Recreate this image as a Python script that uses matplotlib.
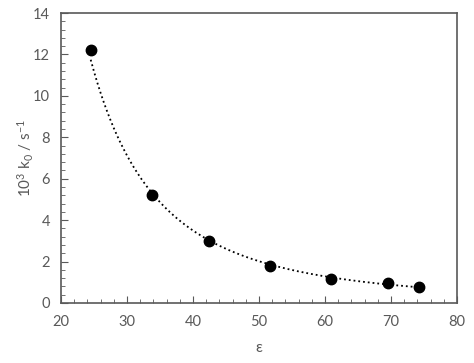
import numpy as np
import matplotlib.pyplot as plt
from matplotlib.ticker import MultipleLocator

# datos
eps = [24.5, 33.8, 42.4, 51.7, 60.9, 69.5, 74.2]
k0 = [12.2, 5.2, 3.0, 1.79, 1.16, 0.97, 0.77]

gris = '#595959'
plt.rcParams['font.family'] = ['Lato', 'DejaVu Sans']
plt.rcParams['mathtext.fontset'] = 'custom'
plt.rcParams['mathtext.rm'] = 'Lato'
plt.rcParams['mathtext.it'] = 'Lato'

fig = plt.figure(figsize=(4.74, 3.63), dpi=100)
ax = fig.add_axes([0.1287, 0.1653, 0.8355, 0.7987])

# linea de tendencia potencial (ajuste log-log)
b, loga = np.polyfit(np.log(eps), np.log(k0), 1)
xs = np.linspace(eps[0], eps[-1], 200)
ax.plot(xs, np.exp(loga) * xs ** b, ':', color='black', lw=1.3)

ax.plot(eps, k0, 'o', color='black', markersize=7.5)

ax.set_xlim(20, 80)
ax.set_ylim(0, 14)
ax.xaxis.set_major_locator(MultipleLocator(10))
ax.xaxis.set_minor_locator(MultipleLocator(2))
ax.yaxis.set_major_locator(MultipleLocator(2))
ax.yaxis.set_minor_locator(MultipleLocator(0.4))
ax.tick_params(which='major', direction='in', length=5, color=gris, labelcolor=gris, labelsize=10.5)
ax.tick_params(which='minor', direction='in', length=3, color=gris)
ax.tick_params(axis='x', pad=9)
ax.tick_params(axis='y', pad=8)
for s in ax.spines.values():
    s.set_color(gris)
    s.set_linewidth(1.2)

ax.set_xlabel('ε', color=gris, fontsize=11, labelpad=8)
ax.set_ylabel('10$^3$ k$_0$ / s$^{-1}$', color=gris, fontsize=11, labelpad=-2)

plt.savefig('out.png', dpi=100)
